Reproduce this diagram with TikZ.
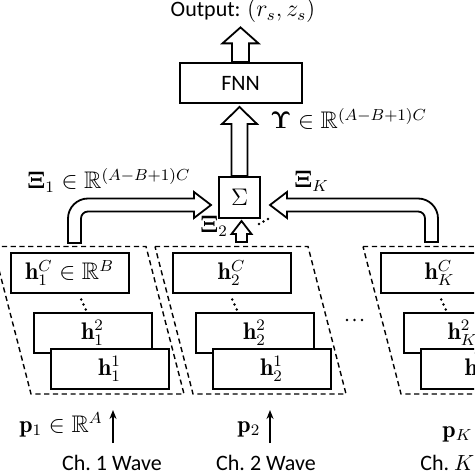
\documentclass[tikz,border=0pt]{standalone}
\usepackage{amsmath,amssymb}
\usepackage{fontspec}
\newfontfamily\carlito{Carlito}
\usetikzlibrary{calc,arrows.meta}

\newcommand{\blockup}[5]{%
  \draw[blockarrow] let \p1=#1, \p2=#2 in
    (\x1-#3,\y1) -- (\x1-#3,\y2-#5) -- (\x1-#4,\y2-#5) -- (\x1,\y2)
    -- (\x1+#4,\y2-#5) -- (\x1+#3,\y2-#5) -- (\x1+#3,\y1) -- cycle;}
\newcommand{\blockbend}[3]{%
  \draw[blockarrow] let \p1=#1, \p2=#2, \n1={#3} in
    ({\x1-(\n1)*3.25pt},\y1) -- ({\x1-(\n1)*3.25pt},{\y2-6.75pt})
    .. controls ({\x1-(\n1)*3.25pt},{\y2-1.23pt}) and ({\x1+(\n1)*1.23pt},{\y2+3.25pt}) .. ({\x1+(\n1)*6.75pt},{\y2+3.25pt})
    -- ({\x2-(\n1)*8.5pt},{\y2+3.25pt}) -- ({\x2-(\n1)*8.5pt},{\y2+6.5pt}) -- (\x2,\y2)
    -- ({\x2-(\n1)*8.5pt},{\y2-6.5pt}) -- ({\x2-(\n1)*8.5pt},{\y2-3.25pt}) -- ({\x1+(\n1)*6.75pt},{\y2-3.25pt})
    .. controls ({\x1+(\n1)*4.82pt},{\y2-3.25pt}) and ({\x1+(\n1)*3.25pt},{\y2-4.82pt}) .. ({\x1+(\n1)*3.25pt},{\y2-6.75pt})
    -- ({\x1+(\n1)*3.25pt},\y1) -- cycle;}
\newcommand{\dotrow}[3]{%
  \foreach \d in {-1,0,1} \fill ($#1+(\d*#2,\d*#3)$) circle (0.7pt);}

\begin{document}
\begin{tikzpicture}[x=0.5pt,y=-0.5pt,
  layer/.style={shape=rectangle,draw,line width=1pt,fill=white,minimum width=59pt,minimum height=20pt,inner sep=0pt,font=\fontsize{12}{14}\selectfont},
  blockarrow/.style={draw,line width=0.9pt,fill=white,line join=miter},
  chan/.style={dash pattern=on 2.6pt off 1.8pt,line width=0.7pt},
  lbl/.style={font=\carlito\fontsize{11}{13}\selectfont},
  mlbl/.style={anchor=base west,inner sep=0pt,font=\fontsize{12}{14}\selectfont},
  inarrow/.style={-{Stealth[length=4.5pt,width=3.5pt]},line width=0.8pt}]
	\useasboundingbox (0,0) rectangle (474,474);
	\clip (0,0) rectangle (474,474);

	\node (out) at (243,17)[lbl,anchor=base,inner sep=2pt] {Output: {\fontsize{12}{14}\selectfont$(r_s,z_s)$}};
	\node (fnn) at (240.5,83)[layer,lbl,minimum width=61pt] {FNN};
	\node (sum) at (239.5,197.5)[layer,minimum width=20.5pt,minimum height=20.5pt,font=\fontsize{13}{15}\selectfont] {$\Sigma$};

	\blockup{(fnn.north)}{(out.south)}{4.25pt}{9pt}{8pt}
	\blockup{(sum.north)}{($(fnn.south)+(0,3)$)}{4pt}{8.75pt}{8.5pt}
	\node (ylab) at (270,129)[mlbl] {$\boldsymbol{\Upsilon}\in\mathbb{R}^{(A-B+1)C}$};

	\foreach \tl/\k/\dx/\extra in {-7/1/14/{\in\mathbb{R}^B},155/2/3/{},363/K/4/{}} {
		\draw[chan] (\tl,246.5) -- (\tl+153,246.5) -- (\tl+191,394) -- (\tl+38,394) -- cycle;
		\node (top\k) at (\tl+76.5,273)[layer] {$\mathbf{h}_{\k}^{C}\extra$};
		\dotrow{(\tl+76.5+\dx,304.5)}{2.2}{5}
		\node (mid\k) at (\tl+99.5,333)[layer] {$\mathbf{h}_{\k}^{2}$};
		\node (bot\k) at (\tl+116.5,369)[layer] {$\mathbf{h}_{\k}^{1}$};
	}
	\dotrow{(354.5,320)}{7.5}{0}

	\coordinate (x1foot) at (74.5,243);
	\coordinate (x2foot) at (241.5,242);
	\coordinate (xKfoot) at (431.5,242);
	\blockbend{(x1foot)}{($(sum.west)+(-7,7.5)$)}{1}
	\blockbend{(xKfoot)}{($(sum.east)+(9,7.5)$)}{-1}
	\blockup{(x2foot)}{($(sum.south)+(0,2)$)}{2.75pt}{5pt}{6.5pt}
	\dotrow{(263.5,221.5)}{4.5}{-2.5}

	\node (x1lab) at (27,189)[mlbl] {$\boldsymbol{\Xi}_1\in\mathbb{R}^{(A-B+1)C}$};
	\node (x2lab) at (200,233)[mlbl] {$\boldsymbol{\Xi}_2$};
	\node (xKlab) at (294,188)[mlbl] {$\boldsymbol{\Xi}_K$};

	\node (p1) at (19,432)[mlbl] {$\mathbf{p}_1\in\mathbb{R}^A$};
	\node (p2) at (237,432)[mlbl] {$\mathbf{p}_2$};
	\node (pK) at (442,437)[mlbl] {$\mathbf{p}_K$};
	\coordinate (in1) at (113,443);
	\coordinate (in1tip) at (113,410);
	\coordinate (in2) at (270,443);
	\coordinate (in2tip) at (270,410);
	\draw[inarrow] (in1) -- (in1tip);
	\draw[inarrow] (in2) -- (in2tip);

	\node (wave1) at (112,470)[lbl,anchor=base] {Ch.~1 Wave};
	\node (wave2) at (266,470)[lbl,anchor=base] {Ch.~2 Wave};
	\node (waveK) at (420,470)[lbl,anchor=base west,inner sep=0pt] {Ch.~$K$ Wave};
\end{tikzpicture}
\end{document}
